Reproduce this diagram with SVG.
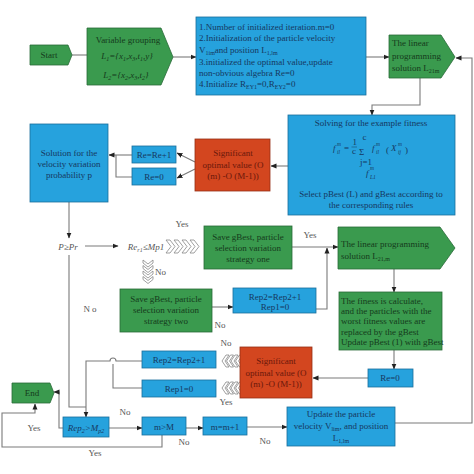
<svg xmlns="http://www.w3.org/2000/svg" width="474" height="474" viewBox="0 0 474 474">
<defs>
<marker id="ah" markerUnits="userSpaceOnUse" markerWidth="6" markerHeight="6" refX="5.5" refY="3" orient="auto"><path d="M0,0.5 L6,3 L0,5.5 z" fill="#222"/></marker>
<style>
text{font-family:"Liberation Serif","DejaVu Serif",serif;font-size:9px}
.g{fill:#3a9a4e;stroke:#2a6a38;stroke-width:0.8}
.b{fill:#26a2dd;stroke:#1b6e9c;stroke-width:0.8}
.r{fill:#d3461f;stroke:#962f14;stroke-width:0.8}
.tg{fill:#153a1c}
.tb{fill:#16385f}
.tr{fill:#6a180b}
.lb{fill:#555;font-size:9px}
.c{fill:none;stroke:#7a7a7a;stroke-width:1.1}
.ca{fill:none;stroke:#7a7a7a;stroke-width:1.1;marker-end:url(#ah)}
.ch{fill:#fff;stroke:#888;stroke-width:0.8}
.m{text-anchor:middle}
.i{font-style:italic}
.s{font-size:5.5px}
</style>
</defs>
<rect width="474" height="474" fill="#fff"/>

<g id="connectors">
<path class="c" d="M72,55 H87"/>
<path class="ca" d="M173,57 H196"/>
<path class="ca" d="M366,57 H389"/>
<path class="ca" d="M395,423 H472 V58 H456"/>
<path class="ca" d="M420,78 V105 H372 V115"/>
<path class="ca" d="M288,166 H271"/>
<path class="ca" d="M195,162 L177,153"/>
<path class="ca" d="M195,169 L177,178"/>
<path class="ca" d="M132,155 H109"/>
<path class="c" d="M132,177 H116 V155"/>
<path class="ca" d="M69,202 V238"/>
<path class="ca" d="M85,246 H118"/>
<path class="c" d="M69,255 V407 H86"/>
<path class="ca" d="M292,247 H338"/>
<path class="ca" d="M212,307 H233"/>
<path class="ca" d="M316,309 H327 V248"/>
<path class="ca" d="M394,269 V292"/>
<path class="ca" d="M394,350 V369"/>
<path class="ca" d="M368,378 H313"/>
<path class="ca" d="M142,361 H116 A3,3 0 0 0 110,361 H86 V417"/>
<path class="c" d="M142,388 H113 V364"/>
<path class="ca" d="M63,428 H59 V392 H54"/>
<path class="ca" d="M109,428 H142"/>
<path class="ca" d="M186,428 H203"/>
<path class="ca" d="M247,427 H287"/>
<path class="ca" d="M162,435 V447 H2 V413 H35 V404"/>
<g id="chevrons-right">
<polygon class="ch" points="166,240 170,240 175,246.5 170,253 166,253 171,246.5"/>
<polygon class="ch" points="174,240 178,240 183,246.5 178,253 174,253 179,246.5"/>
<polygon class="ch" points="182,240 186,240 191,246.5 186,253 182,253 187,246.5"/>
<polygon class="ch" points="190,240 194,240 199,246.5 194,253 190,253 195,246.5"/>
</g>
<g id="chevrons-down">
<polygon class="ch" points="143,260 148,264 153,260 153,263 148,267 143,263"/>
<polygon class="ch" points="143,265.5 148,269.5 153,265.5 153,268.5 148,272.5 143,268.5"/>
<polygon class="ch" points="143,271 148,275 153,271 153,274 148,278 143,274"/>
<polygon class="ch" points="143,276.5 148,280.5 153,276.5 153,279.5 148,283.5 143,279.5"/>
</g>
<g id="chevrons-left">
<polygon class="ch" points="222,361 226,355 229,355 225,361 229,367 226,367"/>
<polygon class="ch" points="226.5,361 230.5,355 233.5,355 229.5,361 233.5,367 230.5,367"/>
<polygon class="ch" points="231,361 235,355 238,355 234,361 238,367 235,367"/>
<polygon class="ch" points="235.5,361 239.5,355 242.5,355 238.5,361 242.5,367 239.5,367"/>
<polygon class="ch" points="222,388 226,382 229,382 225,388 229,394 226,394"/>
<polygon class="ch" points="226.5,388 230.5,382 233.5,382 229.5,388 233.5,394 230.5,394"/>
<polygon class="ch" points="231,388 235,382 238,382 234,388 238,394 235,394"/>
<polygon class="ch" points="235.5,388 239.5,382 242.5,382 238.5,388 242.5,394 239.5,394"/>
</g>
</g>

<g id="start">
<polygon class="g" points="30,45 68,45 72,55 68,65 30,65"/>
<text class="tg m" x="49" y="58">Start</text>
</g>

<g id="grouping">
<polygon class="g" points="87,28 161,28 173,57 161,85 87,85"/>
<text class="tg m" x="128" y="43">Variable grouping</text>
<text class="tg m i" x="127" y="59">L<tspan font-size="6" dy="2">1</tspan><tspan dy="-2">={x</tspan><tspan font-size="6" dy="2">1</tspan><tspan dy="-2">,x</tspan><tspan font-size="6" dy="2">3</tspan><tspan dy="-2">,t</tspan><tspan font-size="6" dy="2">1</tspan><tspan dy="-2">,y}</tspan></text>
<text class="tg m i" x="126" y="78">L<tspan font-size="6" dy="2">2</tspan><tspan dy="-2">={x</tspan><tspan font-size="6" dy="2">2</tspan><tspan dy="-2">,x</tspan><tspan font-size="6" dy="2">3</tspan><tspan dy="-2">,t</tspan><tspan font-size="6" dy="2">2</tspan><tspan dy="-2">}</tspan></text>
</g>

<g id="init">
<rect class="b" x="196" y="17" width="170" height="78"/>
<text class="tb" x="199" y="30">1.Number of initialized iteration.m=0</text>
<text class="tb" x="199" y="41">2.Initialization of the particle velocity</text>
<text class="tb" x="199" y="53">V<tspan font-size="6" dy="2">1im</tspan><tspan dy="-2">and position L</tspan><tspan font-size="6" dy="2">1,lm</tspan></text>
<text class="tb" x="199" y="65">3.initialized the optimal value,update</text>
<text class="tb" x="199" y="76">non-obvious algebra Re=0</text>
<text class="tb" x="199" y="87">4.Initialize R<tspan font-size="6" dy="2">EY1</tspan><tspan dy="-2">=0,R</tspan><tspan font-size="6" dy="2">EY2</tspan><tspan dy="-2">=0</tspan></text>
</g>

<g id="lp1">
<polygon class="g" points="389,35 441,35 455,57 441,78 389,78"/>
<text class="tg" x="392" y="46">The linear</text>
<text class="tg" x="392" y="59">programming</text>
<text class="tg" x="392" y="71">solution L<tspan font-size="6" dy="2">21m</tspan></text>
</g>

<g id="fitness">
<rect class="b" x="288" y="115" width="167" height="100"/>
<text class="tb m" x="371" y="126">Solving for the example fitness</text>
<text class="tb i" x="333" y="151" font-size="11">f</text>
<text class="tb i s" x="337" y="146">m</text>
<text class="tb i s" x="337" y="154">il</text>
<text class="tb" x="344" y="151">=</text>
<text class="tb" x="352.5" y="145" font-size="7">1</text>
<line x1="351.5" y1="147" x2="357" y2="147" stroke="#16385f" stroke-width="0.5"/>
<text class="tb" x="352" y="154" font-size="7">c</text>
<text class="tb" x="359" y="155" font-size="14">Σ</text>
<text class="tb" x="362.5" y="139.5" font-size="4.5">c</text>
<text class="tb" x="360" y="164.5" font-size="4.5">j=1</text>
<text class="tb i" x="372" y="151" font-size="11">f</text>
<text class="tb i s" x="376" y="146">m</text>
<text class="tb i s" x="376" y="154">il</text>
<text class="tb" x="386" y="153" font-size="13">(</text>
<text class="tb i" x="391" y="151" font-size="10">X</text>
<text class="tb i s" x="398" y="146">m</text>
<text class="tb i s" x="398" y="154">ij</text>
<text class="tb" x="405" y="153" font-size="13">)</text>
<text class="tb i" x="366" y="176" font-size="11">f</text>
<text class="tb i s" x="370" y="170">m</text>
<text class="tb i s" x="370" y="178.5">L1</text>
<text class="tb m" x="371" y="197">Select pBest (L) and gBest according to</text>
<text class="tb m" x="371" y="208">the corresponding rules</text>
</g>

<g id="significant1">
<rect class="r" x="195" y="139" width="75" height="52"/>
<text class="tr m" x="233" y="156">Significant</text>
<text class="tr m" x="233" y="168">optimal value (O</text>
<text class="tr m" x="233" y="179">(m) -O (M-1))</text>
</g>

<g id="re-inc">
<rect class="b" x="132" y="146" width="44" height="17"/>
<text class="tb m" x="154" y="158">Re=Re+1</text>
</g>
<g id="re-zero1">
<rect class="b" x="132" y="168" width="44" height="17"/>
<text class="tb m" x="154" y="180">Re=0</text>
</g>

<g id="solution">
<rect class="b" x="30" y="124" width="78" height="78"/>
<text class="tb m" x="69" y="156">Solution for the</text>
<text class="tb m" x="69" y="167">velocity variation</text>
<text class="tb m" x="69" y="178">probability p</text>
</g>

<g id="p-pr">
<text class="i m" x="68" y="250" fill="#555">P≥Pr</text>
</g>
<g id="re-mp1">
<text class="i m" x="146" y="250" fill="#555">Re<tspan font-size="6" dy="2">r1</tspan><tspan dy="-2">≤Mp1</tspan></text>
</g>

<g id="save-one">
<rect class="g" x="204" y="226" width="88" height="43"/>
<text class="tg m" x="248" y="240">Save gBest, particle</text>
<text class="tg m" x="248" y="251">selection variation</text>
<text class="tg m" x="248" y="262">strategy one</text>
</g>

<g id="lp2">
<polygon class="g" points="338,227 440,227 455,248 440,269 338,269"/>
<text class="tg" x="341" y="247">The linear programming</text>
<text class="tg" x="341" y="259">solution L<tspan font-size="6" dy="2">21,m</tspan></text>
</g>

<g id="save-two">
<rect class="g" x="120" y="289" width="92" height="43"/>
<text class="tg m" x="166" y="302">Save gBest, particle</text>
<text class="tg m" x="166" y="313">selection variation</text>
<text class="tg m" x="166" y="324">strategy two</text>
</g>

<g id="rep-upper">
<rect class="b" x="233" y="288" width="83" height="25"/>
<text class="tb m" x="275" y="300">Rep2=Rep2+1</text>
<text class="tb m" x="275" y="310">Rep1=0</text>
</g>

<g id="fitness-calc">
<rect class="g" x="339" y="292" width="103" height="58"/>
<text class="tg" x="341" y="304" font-size="8.5">The finess is calculate,</text>
<text class="tg" x="341" y="314" font-size="8.5">and the particles with the</text>
<text class="tg" x="341" y="324" font-size="8.5">worst fitness values are</text>
<text class="tg" x="341" y="335" font-size="8.5">replaced by the gBest</text>
<text class="tg" x="341" y="345" font-size="8.5">Update pBest (1) with gBest</text>
</g>

<g id="re-zero2">
<rect class="b" x="368" y="369" width="45" height="18"/>
<text class="tb m" x="390" y="381">Re=0</text>
</g>

<g id="significant2">
<rect class="r" x="240" y="347" width="72" height="51"/>
<text class="tr m" x="276" y="364">Significant</text>
<text class="tr m" x="276" y="376">optimal value (O</text>
<text class="tr m" x="276" y="387">(m) -O (M-1))</text>
</g>

<g id="rep-lower">
<rect class="b" x="142" y="351" width="74" height="17"/>
<text class="tb m" x="179" y="363">Rep2=Rep2+1</text>
</g>
<g id="rep1-lower">
<rect class="b" x="142" y="380" width="74" height="17"/>
<text class="tb m" x="179" y="392">Rep1=0</text>
</g>

<g id="end">
<polygon class="g" points="12,383 50,383 54,393 50,403 12,403"/>
<text class="tg m" x="32" y="396">End</text>
</g>

<g id="rep-mp2">
<rect class="b" x="63" y="417" width="46" height="20"/>
<text class="tb m i" x="86" y="431">Rep<tspan font-size="6" dy="2">2</tspan><tspan dy="-2">&gt;M</tspan><tspan font-size="6" dy="2">p2</tspan></text>
</g>
<g id="m-gt-M">
<rect class="b" x="142" y="417" width="44" height="18"/>
<text class="tb m" x="164" y="430">m&gt;M</text>
</g>
<g id="m-inc">
<rect class="b" x="203" y="417" width="44" height="18"/>
<text class="tb m" x="225" y="430">m=m+1</text>
</g>
<g id="update">
<rect class="b" x="287" y="407" width="108" height="39"/>
<text class="tb m" x="341" y="417">Update the particle</text>
<text class="tb m" x="341" y="429">velocity V<tspan font-size="6" dy="2">lim</tspan><tspan dy="-2">, and position</tspan></text>
<text class="tb m" x="341" y="441">L<tspan font-size="6" dy="2">1,lm</tspan></text>
</g>

<g id="labels">
<text class="lb m" x="182" y="227">Yes</text>
<text class="lb" x="155" y="275">No</text>
<text class="lb m" x="310" y="238">Yes</text>
<text class="lb m" x="90" y="312">N o</text>
<text class="lb m" x="220" y="328">No</text>
<text class="lb m" x="226" y="346">No</text>
<text class="lb m" x="226" y="405">Yes</text>
<text class="lb m" x="34" y="431">Yes</text>
<text class="lb m" x="125" y="415">No</text>
<text class="lb m" x="184" y="445">No</text>
<text class="lb m" x="95" y="456">Yes</text>
<text class="lb m" x="265" y="444">No</text>
</g>
</svg>
